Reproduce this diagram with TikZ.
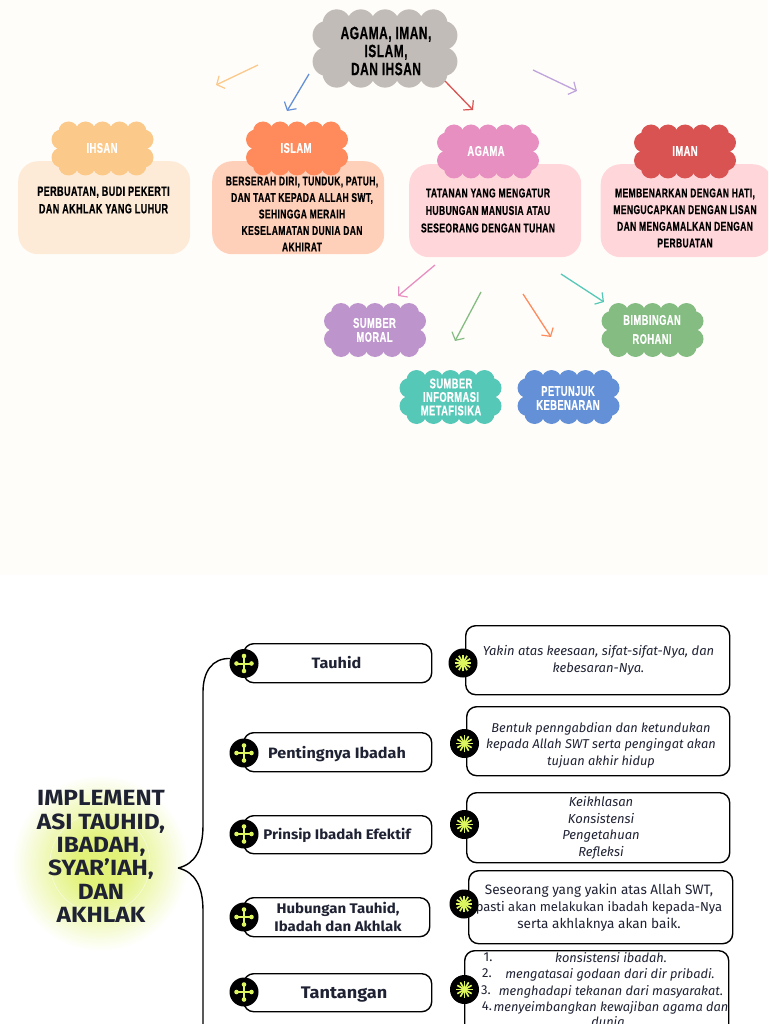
\documentclass[tikz,border=0pt]{standalone}
\usepackage{fontspec}
\usetikzlibrary{arrows.meta}
\setmainfont{Fira Sans}
\newfontfamily\bebas[FakeStretch=0.67,LetterSpace=3,FakeBold=0.5]{Liberation Sans}
\newfontfamily\widebold[FakeStretch=1.08]{Fira Sans}
\newfontfamily\widetitle[FakeStretch=1.11]{Fira Sans}
\definecolor{cream}{HTML}{FFFDF9}
\definecolor{inkc}{HTML}{1F2233}
\definecolor{lime}{HTML}{DDF55F}
\definecolor{glow}{HTML}{E2F279}
\definecolor{cgray}{HTML}{C2BCB8}
\definecolor{cihsan}{HTML}{FBC98A}
\definecolor{cislam}{HTML}{FF8A5C}
\definecolor{cagama}{HTML}{E78FC0}
\definecolor{ciman}{HTML}{D95353}
\definecolor{cmoral}{HTML}{BE94CC}
\definecolor{crohani}{HTML}{84BC82}
\definecolor{cinfo}{HTML}{55C8B8}
\definecolor{cpetun}{HTML}{6490D8}
\definecolor{bihsanc}{HTML}{FDEBD8}
\definecolor{bislamc}{HTML}{FFD0B9}
\definecolor{bpink}{HTML}{FFD7DB}
\definecolor{apurple}{HTML}{BFA3DC}
\pgfdeclareradialshading{glowshade}{\pgfpoint{0bp}{0bp}}{color(0bp)=(glow); color(7bp)=(glow); color(25bp)=(white); color(50bp)=(white)}
\tikzset{
  softbox/.style={rounded corners=20pt,minimum width=172pt,minimum height=93pt,anchor=north west,inner sep=0pt},
  capt/.style={align=center,inner sep=0pt,text=black,font=\fontsize{12.7}{17}\selectfont\bebas\bfseries},
  cloudt/.style={align=center,inner sep=0pt,text=white,font=\fontsize{14}{14}\selectfont\bebas\bfseries},
  thinarrow/.style={line width=1.3pt,-{Straight Barb[length=6pt,width=14pt,line width=1.2pt]}},
  mapbox/.style={draw=black,line width=1.4pt,fill=white,rounded corners=10pt,anchor=north west,inner sep=0pt},
  lab/.style={align=center,inner sep=0pt,text=inkc,font=\fontsize{15}{17.5}\selectfont\widebold\bfseries},
  body/.style={align=center,inner sep=0pt,text=inkc,font=\fontsize{13}{16.6}\selectfont\itshape},
  plainbody/.style={align=center,inner sep=0pt,text=inkc,font=\fontsize{13.6}{17}\selectfont},
  listnum/.style={inner sep=0pt,text=inkc,font=\fontsize{13}{16}\selectfont},
  badge/.style={circle,fill=black,minimum size=29pt,inner sep=0pt},
  moveic/.pic={
    \draw[lime,line width=2pt] (-8,0)--(8,0) (0,-8)--(0,8);
    \foreach \a/\b in {-7.5/0,7.5/0,0/-7.5,0/7.5} \fill[lime] (\a,\b) circle (2.3);
  },
  staric/.pic={
    \foreach \a in {0,30,...,150} \draw[lime,line width=1.7pt,rotate=\a] (-8.3,0)--(8.3,0);
  },
}
% args: cx, cy, xscale, yscale, colour
\newcommand{\cloudblob}[5]{%
  \begin{scope}[shift={(#1,#2)},xscale=#3,yscale=#4]
    \fill[#5] (-41,-17) rectangle (41,17);
    \foreach \px in {-34,-17,0,17,34} {\fill[#5] (\px,-17) circle (10); \fill[#5] (\px,17) circle (10);}
    \foreach \py in {-9,9} {\fill[#5] (-41,\py) circle (10); \fill[#5] (41,\py) circle (10);}
  \end{scope}
}
\begin{document}
\begin{tikzpicture}[x=1pt,y=-1pt]
\clip (0,0) rectangle (768,1024);
\fill[white] (0,0) rectangle (768,1024);
\fill[cream] (0,0) rectangle (768,575);

% soft boxes
\node[softbox,fill=bihsanc] (bihsan) at (18,161) {};
\node[softbox,fill=bislamc] (bislam) at (212,161) {};
\node[softbox,fill=bpink] (bagama) at (409,164) {};
\node[softbox,fill=bpink] (biman) at (600.5,164) {};

% clouds
\cloudblob{385}{48.5}{1.42}{1.45}{cgray}
\cloudblob{102.5}{148.5}{1}{1}{cihsan}
\cloudblob{297}{148.5}{1}{1}{cislam}
\cloudblob{488}{151.5}{1}{1}{cagama}
\cloudblob{685}{151.5}{1}{1}{ciman}
\cloudblob{375}{330}{1}{1}{cmoral}
\cloudblob{652.5}{330}{1}{1}{crohani}
\cloudblob{450.5}{397}{1}{1}{cinfo}
\cloudblob{568.5}{397}{1}{1}{cpetun}

% cloud titles
\node[capt,font=\fontsize{17.8}{18}\selectfont\bebas\bfseries] (tmain) at (386,51) {AGAMA, IMAN,\\ISLAM,\\DAN IHSAN};
\node[cloudt] (tihsan) at (102,148) {IHSAN};
\node[cloudt] (tislam) at (296,148) {ISLAM};
\node[cloudt] (tagama) at (486,151) {AGAMA};
\node[cloudt] (timan) at (685,151) {IMAN};
\node[cloudt] (tmoral) at (374.5,330) {SUMBER\\MORAL};
\node[cloudt,font=\fontsize{14}{19}\selectfont\bebas\bfseries] (trohani) at (652,329.5) {BIMBINGAN\\ROHANI};
\node[cloudt,font=\fontsize{14}{13.5}\selectfont\bebas\bfseries] (tinfo) at (451,397) {SUMBER\\INFORMASI\\METAFISIKA};
\node[cloudt] (tpetun) at (568,398) {PETUNJUK\\KEBENARAN};

% captions
\node[capt,font=\fontsize{13.5}{17.5}\selectfont\bebas\bfseries] (cihsantext) at (103.5,200) {PERBUATAN, BUDI PEKERTI\\DAN AKHLAK YANG LUHUR};
\node[capt,font=\fontsize{12.7}{16.5}\selectfont\bebas\bfseries] (cislamtext) at (302,214) {BERSERAH DIRI, TUNDUK, PATUH,\\DAN TAAT KEPADA ALLAH SWT,\\SEHINGGA MERAIH\\KESELAMATAN DUNIA DAN\\AKHIRAT};
\node[capt,font=\fontsize{12.8}{17.5}\selectfont\bebas\bfseries] (cagamatext) at (488,210.5) {TATANAN YANG MENGATUR\\HUBUNGAN MANUSIA ATAU\\SESEORANG DENGAN TUHAN};
\node[capt,font=\fontsize{12.7}{16.7}\selectfont\bebas\bfseries] (cimantext) at (685,218) {MEMBENARKAN DENGAN HATI,\\MENGUCAPKAN DENGAN LISAN\\DAN MENGAMALKAN DENGAN\\PERBUATAN};

% free arrows
\coordinate (a1s) at (258,65);  \coordinate (a1e) at (216,85);
\coordinate (a2s) at (309,74);  \coordinate (a2e) at (287,111);
\coordinate (a3s) at (445,81);  \coordinate (a3e) at (473,110);
\coordinate (a4s) at (533,70);  \coordinate (a4e) at (577,91);
\coordinate (a5s) at (435,265); \coordinate (a5e) at (398,296);
\coordinate (a6s) at (481,292); \coordinate (a6e) at (455,341);
\coordinate (a7s) at (523,294); \coordinate (a7e) at (551,337);
\coordinate (a8s) at (561,274); \coordinate (a8e) at (604,302);
\draw[thinarrow,cihsan] (a1s) -- (a1e);
\draw[thinarrow,cpetun] (a2s) -- (a2e);
\draw[thinarrow,ciman] (a3s) -- (a3e);
\draw[thinarrow,apurple] (a4s) -- (a4e);
\draw[thinarrow,cagama] (a5s) -- (a5e);
\draw[thinarrow,crohani] (a6s) -- (a6e);
\draw[thinarrow,cislam] (a7s) -- (a7e);
\draw[thinarrow,cinfo] (a8s) -- (a8e);

% glow
\shade[shading=glowshade] (100,863) circle (88);
\draw[glow!12,line width=.5pt] (100,863) circle (77);
\draw[glow!25,line width=.5pt] (100,863) circle (50);
\node[align=center,inner sep=0pt,text=inkc,font=\fontsize{22}{23.3}\selectfont\widetitle\bfseries] (title) at (101,856.5) {IMPLEMENT\\ASI TAUHID,\\IBADAH,\\SYAR’IAH,\\DAN\\AKHLAK};

% left map boxes
\node[mapbox,minimum width=188pt,minimum height=39pt] (m1) at (243,643) {};
\node[mapbox,minimum width=188pt,minimum height=39pt] (m2) at (243,732) {};
\node[mapbox,minimum width=188pt,minimum height=38pt] (m3) at (243,815) {};
\node[mapbox,minimum width=186pt,minimum height=39pt] (m4) at (243,897) {};
\node[mapbox,minimum width=188pt,minimum height=38pt] (m5) at (243,973) {};
\node[lab] (l1) at (336.5,663) {Tauhid};
\node[lab] (l2) at (337,754.5) {Pentingnya Ibadah};
\node[lab,font=\fontsize{13.9}{17.5}\selectfont\widebold\bfseries] (l3) at (337,835.5) {Prinsip Ibadah Efektif};
\node[lab,font=\fontsize{13.9}{17.5}\selectfont\widebold\bfseries] (l4) at (338,917) {Hubungan Tauhid,\\Ibadah dan Akhlak};
\node[lab,font=\fontsize{16.8}{17.5}\selectfont\widebold\bfseries] (l5) at (344,994.5) {Tantangan};
\node[badge] (k1) at (244,663.5) {};
\node[badge] (k2) at (244,753) {};
\node[badge] (k3) at (244,834) {};
\node[badge] (k4) at (244,917) {};
\node[badge] (k5) at (244,992) {};
\foreach \k in {k1,k2,k3,k4,k5} \path pic at (\k) {moveic};

% bracket
\coordinate (tip) at (178,868);
\coordinate (tail) at (203,1030);
\draw[black,line width=1.4pt] (tip) .. controls (195,864) and (203,850) .. (203,825) -- (203,692) .. controls (203,672) and (212,658) .. (k1.160);
\draw[black,line width=1.4pt] (tip) .. controls (195,872) and (203,886) .. (203,911) -- (tail);

% right boxes
\node[mapbox,minimum width=264pt,minimum height=69pt] (r1) at (465,625) {};
\node[mapbox,minimum width=263pt,minimum height=69pt] (r2) at (466,706) {};
\node[mapbox,minimum width=263pt,minimum height=70pt] (r3) at (466,792) {};
\node[mapbox,minimum width=264pt,minimum height=73pt] (r4) at (468,870) {};
\node[mapbox,minimum width=264pt,minimum height=90pt] (r5) at (464,950) {};
\node[body,font=\fontsize{13}{17.3}\selectfont\itshape] (x1) at (598.5,660) {Yakin atas keesaan, sifat-sifat-Nya, dan\\kebesaran-Nya.};
\node[body,font=\fontsize{12.8}{16.6}\selectfont\itshape] (x2) at (601,745) {Bentuk penngabdian dan ketundukan\\kepada Allah SWT serta pengingat akan\\tujuan akhir hidup};
\node[body] (x3) at (601,828) {Keikhlasan\\Konsistensi\\Pengetahuan\\Refleksi};
\node[plainbody] (x4) at (599,908) {Seseorang yang yakin atas Allah SWT,\\{\fontsize{13}{17}\selectfont pasti akan melakukan ibadah kepada-Nya}\\serta akhlaknya akan baik.};
\node[listnum] (n1) at (488,957) {1.};
\node[listnum] (n2) at (487,973) {2.};
\node[listnum] (n3) at (486,990) {3.};
\node[listnum] (n4) at (487,1006) {4.};
\node[body,font=\fontsize{12.8}{16}\selectfont\itshape] (y1) at (611,958) {konsistensi ibadah.};
\node[body,font=\fontsize{12.8}{16}\selectfont\itshape] (y2) at (610,974.5) {mengatasai godaan dari dir pribadi.};
\node[body,font=\fontsize{12.8}{16}\selectfont\itshape] (y3) at (611,991.5) {menghadapi tekanan dari masyarakat.};
\node[body,font=\fontsize{12.8}{16}\selectfont\itshape] (y4) at (611,1007.5) {menyeimbangkan kewajiban agama dan};
\node[body,font=\fontsize{12.8}{16}\selectfont\itshape] (y5) at (608,1022) {dunia};
\node[badge] (s1) at (463,663) {};
\node[badge] (s2) at (464.5,743.5) {};
\node[badge] (s3) at (464.5,824.5) {};
\node[badge] (s4) at (464,904) {};
\node[badge] (s5) at (464.5,989.5) {};
\foreach \k in {s1,s2,s3,s4,s5} \path pic at (\k) {staric};
\end{tikzpicture}
\end{document}
